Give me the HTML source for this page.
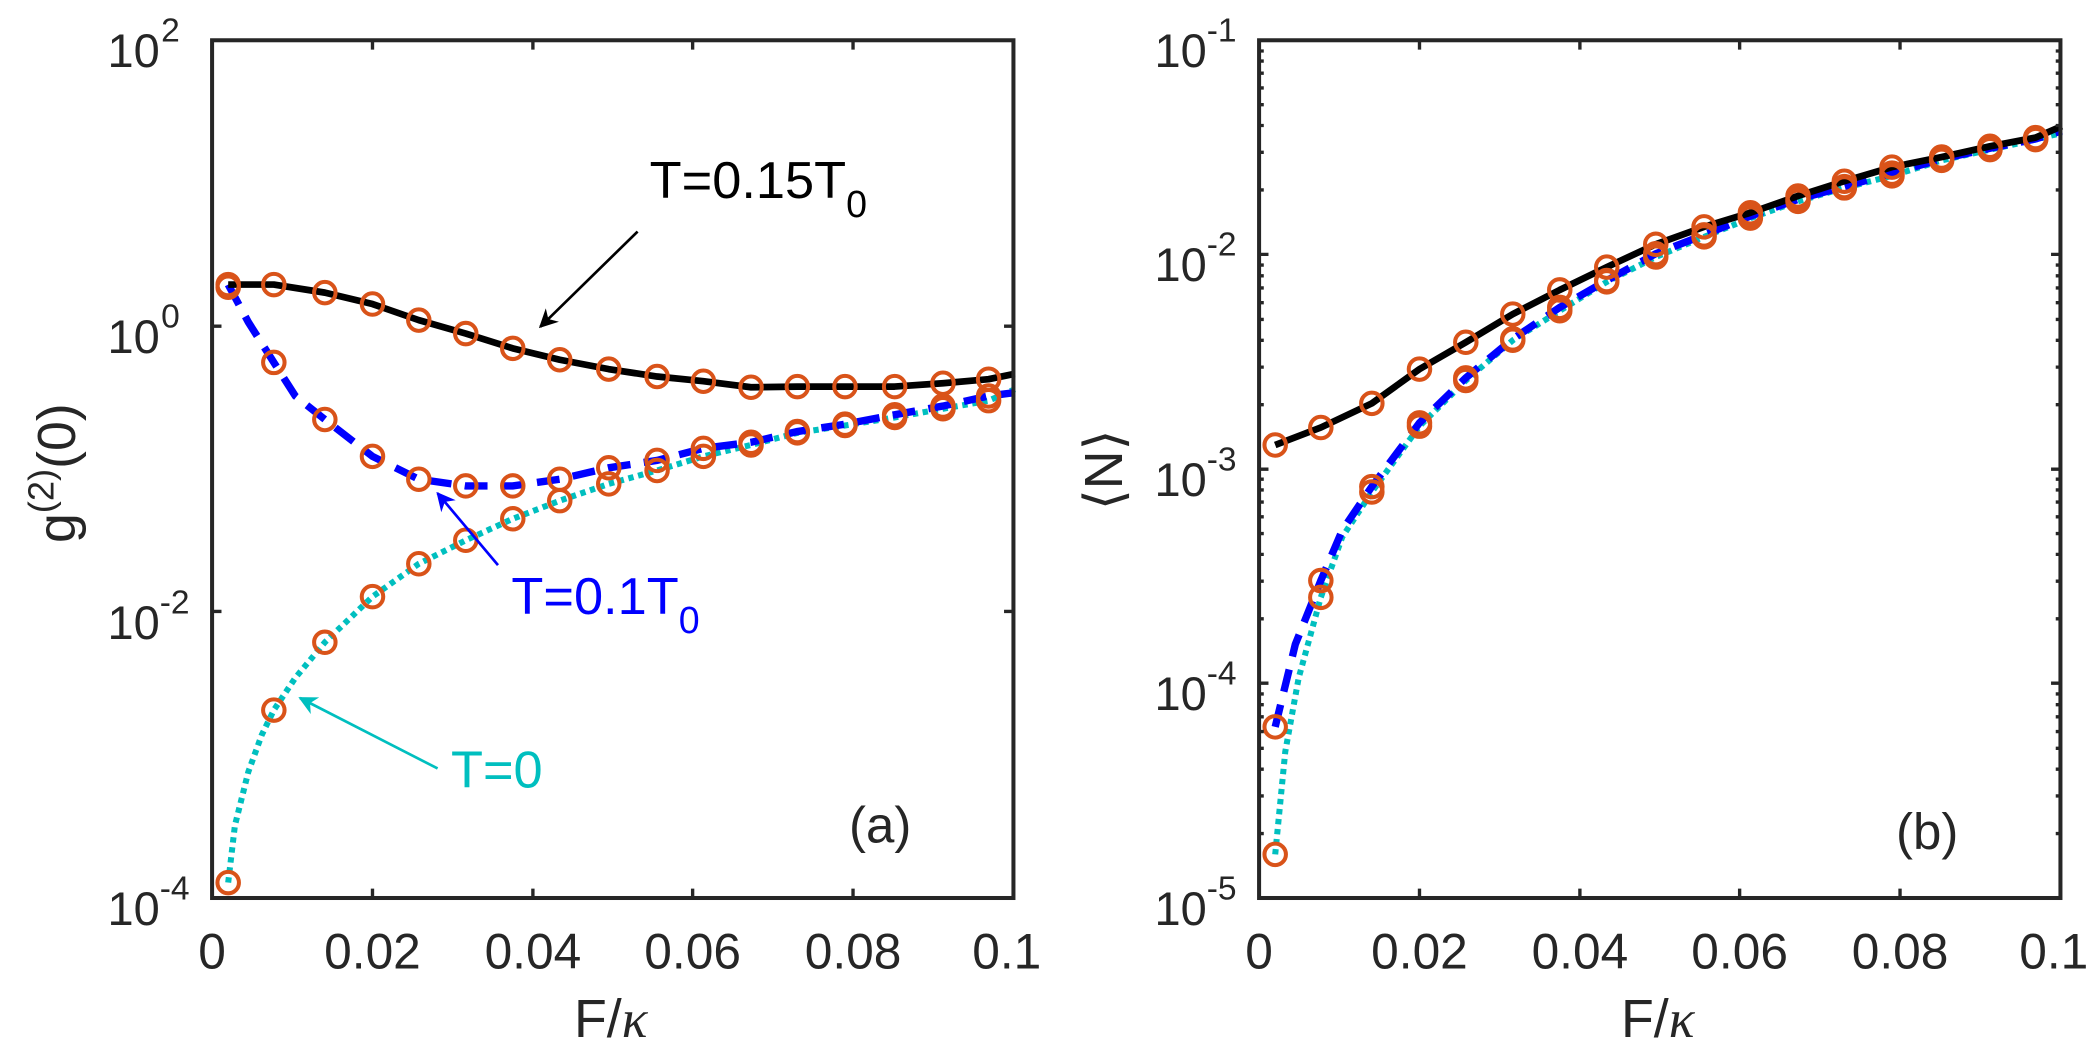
<!DOCTYPE html>
<html><head><meta charset="utf-8"><style>
html,body{margin:0;padding:0;background:#fff;}
svg{position:absolute;top:0;}
text{font-family:"Liberation Sans",sans-serif;fill:#262626;}
</style></head><body>
<svg style="left:0" width="1047" height="1047" viewBox="0 0 1560 1560">
<defs>
<marker id="ab" viewBox="0 0 10 10" refX="9" refY="5" markerWidth="7" markerHeight="7" orient="auto"><path d="M0,0 L10,5 L0,10 L3,5z" fill="#000"/></marker>
<marker id="abl" viewBox="0 0 10 10" refX="9" refY="5" markerWidth="7" markerHeight="7" orient="auto"><path d="M0,0 L10,5 L0,10 L3,5z" fill="#0000ff"/></marker>
<marker id="ac" viewBox="0 0 10 10" refX="9" refY="5" markerWidth="7" markerHeight="7" orient="auto"><path d="M0,0 L10,5 L0,10 L3,5z" fill="#00bfbf"/></marker>
</defs>
<polyline fill="none" stroke="#00bfbf" stroke-width="9" stroke-dasharray="8,7" points="340,1315 350,1230 370,1150 390,1095 408,1058 440,1010 484,957 555,889 624,840 694,805 764,773 834,746 907,721 979,701 1048,680 1119,663 1188,645 1259,634 1333,622 1405,609 1473,597 1512,580"/>
<polyline fill="none" stroke="#0000ff" stroke-width="11" stroke-dasharray="34,20" points="340,424 370,480 408,540 440,590 484,625 555,680 624,714 694,724 764,724 834,714 907,697 979,686 1048,668 1119,659 1188,643 1259,632 1333,618 1405,605 1473,590 1512,585"/>
<polyline fill="none" stroke="#000" stroke-width="10" stroke-linejoin="round" points="340,424 408,424 484,436 555,453 624,477 694,497 764,519 834,536 907,550 979,561 1048,568 1119,577 1188,576 1259,576 1333,576 1405,571 1473,565 1512,557"/>
<g fill="none" stroke="#d95319" stroke-width="6">
<circle cx="340" cy="424" r="16"/><circle cx="408" cy="424" r="16"/><circle cx="484" cy="436" r="16"/><circle cx="555" cy="453" r="16"/><circle cx="624" cy="477" r="16"/><circle cx="694" cy="497" r="16"/><circle cx="764" cy="519" r="16"/><circle cx="834" cy="536" r="16"/><circle cx="907" cy="550" r="16"/><circle cx="979" cy="561" r="16"/><circle cx="1048" cy="568" r="16"/><circle cx="1119" cy="577" r="16"/><circle cx="1188" cy="576" r="16"/><circle cx="1259" cy="576" r="16"/><circle cx="1333" cy="576" r="16"/><circle cx="1405" cy="571" r="16"/><circle cx="1473" cy="565" r="16"/>
<circle cx="340" cy="428" r="16"/><circle cx="408" cy="540" r="16"/><circle cx="484" cy="625" r="16"/><circle cx="555" cy="680" r="16"/><circle cx="624" cy="714" r="16"/><circle cx="694" cy="724" r="16"/><circle cx="764" cy="724" r="16"/><circle cx="834" cy="714" r="16"/><circle cx="907" cy="697" r="16"/><circle cx="979" cy="686" r="16"/><circle cx="1048" cy="668" r="16"/><circle cx="1119" cy="659" r="16"/><circle cx="1188" cy="643" r="16"/><circle cx="1259" cy="632" r="16"/><circle cx="1333" cy="618" r="16"/><circle cx="1405" cy="605" r="16"/><circle cx="1473" cy="590" r="16"/>
<circle cx="340" cy="1315" r="16"/><circle cx="408" cy="1058" r="16"/><circle cx="484" cy="957" r="16"/><circle cx="555" cy="889" r="16"/><circle cx="624" cy="840" r="16"/><circle cx="694" cy="805" r="16"/><circle cx="764" cy="773" r="16"/><circle cx="834" cy="746" r="16"/><circle cx="907" cy="721" r="16"/><circle cx="979" cy="701" r="16"/><circle cx="1048" cy="680" r="16"/><circle cx="1119" cy="663" r="16"/><circle cx="1188" cy="645" r="16"/><circle cx="1259" cy="634" r="16"/><circle cx="1333" cy="622" r="16"/><circle cx="1405" cy="609" r="16"/><circle cx="1473" cy="597" r="16"/>
</g>
<rect x="316" y="60" width="1194" height="1278" fill="none" stroke="#262626" stroke-width="6"/>
<g stroke="#262626" stroke-width="5">
<path d="M316,486h14M316,911h14M1510,486h-14M1510,911h-14"/>
<path d="M555,1338v-14M794,1338v-14M1032,1338v-14M1271,1338v-14M555,60v14M794,60v14M1032,60v14M1271,60v14"/>
</g>
<g font-size="74" text-anchor="middle">
<text x="316" y="1443">0</text><text x="555" y="1443">0.02</text><text x="794" y="1443">0.04</text><text x="1032" y="1443">0.06</text><text x="1271" y="1443">0.08</text><text x="1500" y="1443">0.1</text>
</g>
<g font-size="70" text-anchor="end">
<text x="238" y="100">10</text><text x="238" y="526">10</text><text x="238" y="952">10</text><text x="238" y="1378">10</text>
</g>
<g font-size="50">
<text x="240" y="62">2</text><text x="240" y="488">0</text><text x="238" y="914">-2</text><text x="238" y="1340">-4</text>
</g>
<text x="910" y="1545" font-size="80" text-anchor="middle">F/<tspan font-family="Liberation Serif" font-style="italic">κ</tspan></text>
<text transform="translate(112,705) rotate(-90)" font-size="80" text-anchor="middle">g<tspan font-size="54" dy="-32">(2)</tspan><tspan dy="32">(0)</tspan></text>
<text x="1265" y="1255" font-size="76">(a)</text>
<text x="968" y="295" font-size="78" style="fill:#000">T=0.15T<tspan font-size="56" dy="28">0</tspan></text>
<line x1="950" y1="345" x2="805" y2="487" stroke="#000" stroke-width="4" marker-end="url(#ab)"/>
<text x="762" y="915" font-size="78" style="fill:#0000ff">T=0.1T<tspan font-size="56" dy="28">0</tspan></text>
<line x1="742" y1="842" x2="652" y2="735" stroke="#0000ff" stroke-width="4" marker-end="url(#abl)"/>
<text x="672" y="1173" font-size="78" style="fill:#00bfbf">T=0</text>
<line x1="652" y1="1145" x2="447" y2="1040" stroke="#00bfbf" stroke-width="4" marker-end="url(#ac)"/>
</svg>

<svg style="left:1047px" width="1047" height="1047" viewBox="0 0 1560 1560">
<polyline fill="none" stroke="#00bfbf" stroke-width="9" stroke-dasharray="8,7" points="340,1273 355,1120 375,1010 408,890 440,800 484,733 555,635 624,567 694,507 764,463 834,420 907,383 979,353 1048,325 1119,300 1188,280 1259,262 1333,239 1405,223 1473,208 1512,198"/>
<polyline fill="none" stroke="#0000ff" stroke-width="11" stroke-dasharray="34,20" points="340,1083 370,960 408,865 440,790 484,725 555,630 624,563 694,505 764,458 834,418 907,378 979,350 1048,322 1119,297 1188,278 1259,258 1333,237 1405,221 1473,207 1512,195"/>
<polyline fill="none" stroke="#000" stroke-width="10" stroke-linejoin="round" points="340,663 408,637 484,601 555,550 624,510 694,468 764,432 834,398 907,364 979,338 1048,317 1119,292 1188,270 1259,249 1333,234 1405,218 1473,205 1512,188"/>
<g fill="none" stroke="#d95319" stroke-width="6">
<circle cx="340" cy="663" r="16"/><circle cx="408" cy="637" r="16"/><circle cx="484" cy="601" r="16"/><circle cx="555" cy="550" r="16"/><circle cx="624" cy="510" r="16"/><circle cx="694" cy="468" r="16"/><circle cx="764" cy="432" r="16"/><circle cx="834" cy="398" r="16"/><circle cx="907" cy="364" r="16"/><circle cx="979" cy="338" r="16"/><circle cx="1048" cy="317" r="16"/><circle cx="1119" cy="292" r="16"/><circle cx="1188" cy="270" r="16"/><circle cx="1259" cy="249" r="16"/><circle cx="1333" cy="234" r="16"/><circle cx="1405" cy="218" r="16"/><circle cx="1473" cy="205" r="16"/>
<circle cx="340" cy="1083" r="16"/><circle cx="408" cy="865" r="16"/><circle cx="484" cy="725" r="16"/><circle cx="555" cy="630" r="16"/><circle cx="624" cy="563" r="16"/><circle cx="694" cy="505" r="16"/><circle cx="764" cy="458" r="16"/><circle cx="834" cy="418" r="16"/><circle cx="907" cy="378" r="16"/><circle cx="979" cy="350" r="16"/><circle cx="1048" cy="322" r="16"/><circle cx="1119" cy="297" r="16"/><circle cx="1188" cy="278" r="16"/><circle cx="1259" cy="258" r="16"/><circle cx="1333" cy="237" r="16"/><circle cx="1405" cy="221" r="16"/><circle cx="1473" cy="207" r="16"/>
<circle cx="340" cy="1273" r="16"/><circle cx="408" cy="890" r="16"/><circle cx="484" cy="733" r="16"/><circle cx="555" cy="635" r="16"/><circle cx="624" cy="567" r="16"/><circle cx="694" cy="507" r="16"/><circle cx="764" cy="463" r="16"/><circle cx="834" cy="420" r="16"/><circle cx="907" cy="383" r="16"/><circle cx="979" cy="353" r="16"/><circle cx="1048" cy="325" r="16"/><circle cx="1119" cy="300" r="16"/><circle cx="1188" cy="280" r="16"/><circle cx="1259" cy="262" r="16"/><circle cx="1333" cy="239" r="16"/><circle cx="1405" cy="223" r="16"/><circle cx="1473" cy="208" r="16"/>
</g>
<rect x="316" y="60" width="1194" height="1278" fill="none" stroke="#262626" stroke-width="6"/>
<g stroke="#262626" stroke-width="5">
<path d="M316,379h14M316,699h14M316,1018h14M1510,379h-14M1510,699h-14M1510,1018h-14"/>
<path d="M555,1338v-14M794,1338v-14M1032,1338v-14M1271,1338v-14M555,60v14M794,60v14M1032,60v14M1271,60v14"/>
<path d="M316,283h7M316,227h7M316,187h7M316,156h7M316,131h7M316,109h7M316,91h7M316,76h7
M316,603h7M316,547h7M316,507h7M316,476h7M316,451h7M316,429h7M316,411h7M316,395h7
M316,922h7M316,866h7M316,826h7M316,795h7M316,770h7M316,748h7M316,730h7M316,714h7
M316,1242h7M316,1186h7M316,1146h7M316,1115h7M316,1090h7M316,1068h7M316,1050h7M316,1034h7
M1510,283h-7M1510,227h-7M1510,187h-7M1510,156h-7M1510,131h-7M1510,109h-7M1510,91h-7M1510,76h-7
M1510,603h-7M1510,547h-7M1510,507h-7M1510,476h-7M1510,451h-7M1510,429h-7M1510,411h-7M1510,395h-7
M1510,922h-7M1510,866h-7M1510,826h-7M1510,795h-7M1510,770h-7M1510,748h-7M1510,730h-7M1510,714h-7
M1510,1242h-7M1510,1186h-7M1510,1146h-7M1510,1115h-7M1510,1090h-7M1510,1068h-7M1510,1050h-7M1510,1034h-7"/>
</g>
<g font-size="74" text-anchor="middle">
<text x="316" y="1443">0</text><text x="555" y="1443">0.02</text><text x="794" y="1443">0.04</text><text x="1032" y="1443">0.06</text><text x="1271" y="1443">0.08</text><text x="1500" y="1443">0.1</text>
</g>
<g font-size="70" text-anchor="end">
<text x="238" y="100">10</text><text x="238" y="419">10</text><text x="238" y="739">10</text><text x="238" y="1058">10</text><text x="238" y="1378">10</text>
</g>
<g font-size="50">
<text x="238" y="62">-1</text><text x="238" y="381">-2</text><text x="238" y="701">-3</text><text x="238" y="1020">-4</text><text x="238" y="1340">-5</text>
</g>
<text x="910" y="1545" font-size="80" text-anchor="middle">F/<tspan font-family="Liberation Serif" font-style="italic">κ</tspan></text>
<text transform="translate(112,700) rotate(-90)" font-size="80" text-anchor="middle">⟨N⟩</text>
<text x="1265" y="1265" font-size="76">(b)</text>
</svg>
</body></html>
